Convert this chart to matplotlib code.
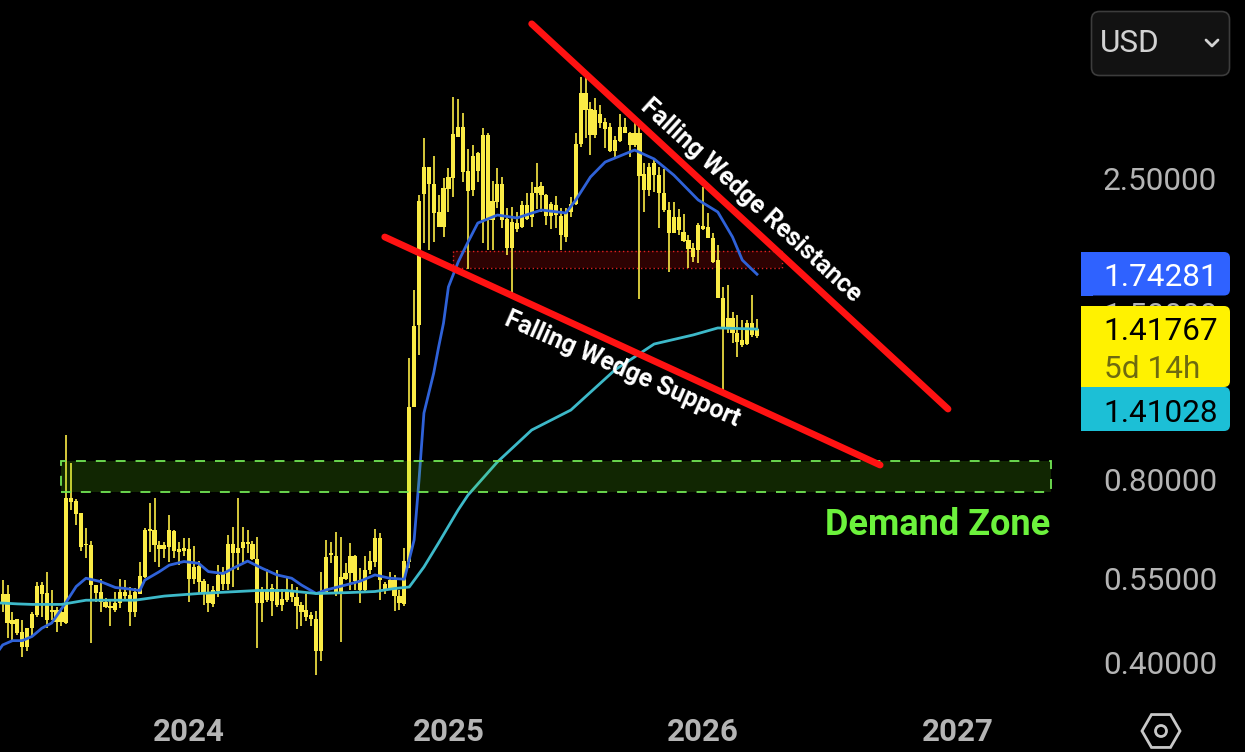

import numpy as np
import matplotlib
matplotlib.use('Agg')
import matplotlib.pyplot as plt
import matplotlib.dates as mdates
from matplotlib.patches import FancyBboxPatch, Rectangle, RegularPolygon, Circle
from matplotlib.transforms import Affine2D
from matplotlib.ticker import NullLocator
import datetime as dt

first_week = '2023-04-03'
opens = [0.502,0.520,0.463,0.472,0.450,0.424,0.456,0.479,0.538,0.522,0.484,0.489,0.467,0.465,0.748,0.738,0.705,0.624,0.625,0.537,
0.524,0.504,0.492,0.502,0.501,0.524,0.517,0.484,0.520,0.554,0.660,0.661,0.625,0.615,0.621,0.660,0.609,0.617,0.615,0.549,
0.577,0.546,0.522,0.499,0.525,0.560,0.540,0.627,0.607,0.617,0.633,0.627,0.592,0.502,0.526,0.506,0.528,0.498,0.507,0.526,
0.513,0.498,0.489,0.479,0.473,0.419,0.520,0.602,0.599,0.520,0.550,0.563,0.599,0.547,0.527,0.568,0.587,0.641,0.540,0.530,
0.547,0.515,0.500,0.586,1.054,1.438,2.362,2.613,2.453,2.209,2.087,2.404,2.506,2.935,3.040,2.580,2.398,2.755,2.953,2.140,
2.303,2.294,2.453,2.146,1.923,2.119,2.082,2.266,2.168,2.374,2.435,2.353,2.173,2.266,2.173,2.009,2.209,2.274,2.854,3.467,
3.255,2.953,3.198,3.106,3.040,2.780,2.891,3.040,2.980,2.844,2.972,2.548,2.398,2.653,2.538,2.374,2.223,2.040,2.168,2.048,
1.984,1.923,1.910,2.092,2.082,1.997,1.839,1.591,1.429,1.475,1.393,1.359,1.338,1.447,1.379]
highs = [0.547,0.537,0.485,0.472,0.470,0.456,0.485,0.544,0.543,0.565,0.526,0.494,0.492,0.948,0.854,0.743,0.705,0.666,0.635,0.537,
0.549,0.511,0.507,0.524,0.549,0.547,0.534,0.530,0.585,0.666,0.732,0.748,0.635,0.633,0.700,0.661,0.633,0.641,0.641,0.623,
0.589,0.549,0.540,0.535,0.579,0.574,0.649,0.670,0.746,0.668,0.661,0.635,0.643,0.534,0.570,0.540,0.568,0.528,0.556,0.540,
0.534,0.504,0.519,0.485,0.487,0.565,0.637,0.633,0.657,0.645,0.583,0.629,0.602,0.572,0.599,0.612,0.663,0.653,0.544,0.565,
0.558,0.527,0.619,1.269,1.642,2.353,2.916,2.620,2.728,2.353,2.506,2.603,3.415,3.381,3.214,2.797,2.844,2.773,3.029,2.980,
2.484,2.603,2.516,2.237,2.251,2.209,2.303,2.368,2.475,2.660,2.475,2.362,2.294,2.344,2.237,2.237,2.332,2.980,3.674,3.674,
3.351,3.393,3.309,3.146,3.087,2.942,3.198,3.146,2.991,3.106,3.067,2.653,2.660,2.693,2.620,2.593,2.294,2.294,2.229,2.190,
2.022,1.959,2.119,2.428,2.195,2.035,1.947,1.663,1.673,1.513,1.494,1.466,1.466,1.611,1.469]
lows = [0.485,0.439,0.433,0.444,0.409,0.419,0.442,0.476,0.476,0.456,0.470,0.450,0.459,0.463,0.714,0.674,0.611,0.596,0.431,0.504,
0.485,0.492,0.459,0.485,0.492,0.507,0.459,0.476,0.519,0.551,0.609,0.587,0.574,0.594,0.587,0.596,0.579,0.599,0.504,0.540,
0.520,0.498,0.485,0.495,0.514,0.527,0.527,0.534,0.568,0.583,0.606,0.590,0.423,0.467,0.504,0.478,0.495,0.487,0.504,0.504,
0.454,0.460,0.469,0.460,0.382,0.403,0.519,0.583,0.515,0.432,0.547,0.527,0.526,0.502,0.524,0.560,0.576,0.507,0.520,0.527,
0.487,0.489,0.496,0.573,1.054,1.284,1.959,1.910,1.972,2.087,2.009,2.209,2.338,2.935,2.475,1.776,2.344,2.475,1.959,1.910,
1.910,2.237,2.074,1.875,1.621,2.048,2.074,2.140,2.087,2.229,2.209,2.100,2.066,2.074,1.910,1.972,2.168,2.266,2.819,2.916,
2.738,2.916,3.029,2.808,2.773,2.714,2.880,2.972,2.714,2.826,1.585,2.209,2.344,2.383,2.074,2.209,1.760,2.035,2.022,1.972,
1.782,1.828,1.816,2.061,1.997,1.821,1.591,1.121,1.393,1.342,1.275,1.325,1.333,1.376,1.367]
closes = [0.520,0.465,0.470,0.447,0.425,0.456,0.482,0.536,0.520,0.470,0.489,0.467,0.485,0.748,0.736,0.703,0.621,0.627,0.537,0.522,
0.504,0.494,0.496,0.489,0.524,0.516,0.485,0.524,0.556,0.661,0.663,0.625,0.615,0.625,0.661,0.612,0.615,0.612,0.549,0.576,
0.544,0.520,0.501,0.527,0.558,0.540,0.627,0.606,0.617,0.633,0.627,0.592,0.502,0.527,0.507,0.530,0.498,0.509,0.527,0.513,
0.496,0.485,0.476,0.472,0.419,0.520,0.598,0.606,0.519,0.553,0.563,0.599,0.546,0.527,0.568,0.589,0.641,0.547,0.527,0.547,
0.515,0.501,0.589,1.054,1.433,2.303,2.613,2.450,2.201,2.087,2.413,2.516,2.965,3.040,2.570,2.392,2.728,2.580,2.140,2.953,
2.140,2.453,2.140,1.923,2.127,2.066,2.266,2.146,2.374,2.428,2.353,2.173,2.274,2.181,2.022,2.209,2.274,2.854,3.467,3.247,
2.953,3.247,3.095,3.017,2.780,2.898,3.040,2.980,2.844,2.980,2.529,2.398,2.613,2.538,2.374,2.223,2.040,2.162,2.061,1.979,
1.915,1.858,2.100,2.066,1.997,1.828,1.591,1.429,1.475,1.393,1.350,1.333,1.451,1.385,1.418]

fast_ma_week = [-1,0,2,4,6,8,10,13,15,17,20,23,25,28,29,32,34,37,40,42,45,47,50,53,56,59,61,64,66,70,73,76,79,82,84,85,86,88,89,90,91,93,95,97,101,105,110,115,117,120,123,129,133,137,142,146,149,151,154]
fast_ma_price = [0.417,0.428,0.435,0.435,0.442,0.456,0.465,0.504,0.534,0.551,0.544,0.532,0.530,0.526,0.547,0.565,0.579,0.587,0.583,0.565,0.561,0.572,0.588,0.572,0.558,0.551,0.537,0.520,0.527,0.537,0.545,0.558,0.551,0.549,0.637,0.800,1.030,1.199,1.323,1.449,1.661,1.826,1.969,2.116,2.181,2.157,2.223,2.198,2.309,2.519,2.666,2.790,2.697,2.538,2.309,2.206,2.007,1.839,1.743]
slow_ma_week = [-1,3,6,12,17,27,33,40,52,58,64,71,76,80,83,86,89,93,95,101,108,116,125,133,141,146,154]
slow_ma_price = [0.502,0.500,0.499,0.499,0.507,0.507,0.515,0.520,0.526,0.526,0.520,0.522,0.524,0.530,0.533,0.575,0.630,0.714,0.755,0.856,0.966,1.042,1.213,1.338,1.385,1.422,1.416]

resistance_dates = ['2025-04-28', '2026-12-14']
resistance_prices = [4.50, 1.046]
support_dates = ['2024-09-30', '2026-09-08']
support_prices = [2.007, 0.846]
demand_dates = ['2023-06-26', '2027-05-10']
demand_prices = [0.764, 0.8575]
red_zone_dates = ['2025-01-05', '2026-04-21']
red_zone_prices = [1.785, 1.903]

y_ticks = [0.40, 0.55, 0.80, 1.50, 2.50]
x_tick_dates = ['2023-12-25', '2024-12-31', '2025-12-29', '2026-12-28']
x_tick_labels = ['2024', '2025', '2026', '2027']

FONT = 'Roboto'
W, H = 1245, 752
plt.rcParams['font.family'] = [FONT, 'DejaVu Sans']
fig = plt.figure(figsize=(W/100, H/100), dpi=100, facecolor='black')
ax = fig.add_axes([0, 0, 1, 1], facecolor='black')
px = Affine2D().scale(1, -1).translate(0, H)

d0 = mdates.date2num(dt.datetime.fromisoformat(first_week))
dn = lambda s: mdates.date2num(dt.datetime.fromisoformat(s))
x = d0 + 7*np.arange(len(closes))
o, h, l, c = map(np.array, (opens, highs, lows, closes))

YEL = '#FAEB45'
ax.vlines(x, l, h, color=YEL, lw=1.2, zorder=3)
top = np.maximum(o, c); bot = np.minimum(o, c)
ax.bar(x, top-bot, bottom=bot, width=6.0, color=YEL, lw=0, zorder=3)

ax.plot(d0+7*np.array(fast_ma_week), fast_ma_price, color='#2F62D8', lw=2.0, zorder=4, solid_joinstyle='round')
ax.plot(d0+7*np.array(slow_ma_week), slow_ma_price, color='#3DB9C9', lw=2.0, zorder=4, solid_joinstyle='round')

# zones
dz = [dn(s) for s in demand_dates]
ax.add_patch(Rectangle((dz[0], demand_prices[0]), dz[1]-dz[0], demand_prices[1]-demand_prices[0],
             facecolor='#70F010', alpha=0.16, lw=0, zorder=5))
ax.add_patch(Rectangle((dz[0], demand_prices[0]), dz[1]-dz[0], demand_prices[1]-demand_prices[0],
             facecolor='none', edgecolor='#72E655', lw=1.3, ls=(0, (5.5, 5.5)), zorder=5))
rz = [dn(s) for s in red_zone_dates]
ax.add_patch(Rectangle((rz[0], red_zone_prices[0]), rz[1]-rz[0], red_zone_prices[1]-red_zone_prices[0],
             facecolor='#FF1010', alpha=0.18, lw=0, zorder=2))
ax.add_patch(Rectangle((rz[0], red_zone_prices[0]), rz[1]-rz[0], red_zone_prices[1]-red_zone_prices[0],
             facecolor='none', edgecolor='#E02020', lw=1.0, ls=(0, (1, 2)), zorder=2))

# trend lines
for ds, ps in ((resistance_dates, resistance_prices), (support_dates, support_prices)):
    ax.plot([dn(s) for s in ds], ps, color='#FF1212', lw=4.9, solid_capstyle='round', zorder=6)

ax.set_yscale('log')
ax.set_ylim(0.2853, 4.925)
ax.set_xlim(d0 - 2.7*7/4.898, d0 + (W-2.7)*7/4.898)
for s in ax.spines.values():
    s.set_visible(False)

GREY = '#B4B4B4'
ax.yaxis.set_minor_locator(NullLocator())
ax.yaxis.tick_right()
ax.set_yticks(y_ticks, [f'{v:.5f}' for v in y_ticks])
ax.tick_params(axis='y', which='both', length=0, pad=-20, labelsize=22.7, labelcolor=GREY)
for t in ax.get_yticklabels():
    t.set_ha('right')
ax.set_xticks([dn(s) for s in x_tick_dates], x_tick_labels)
ax.tick_params(axis='x', length=0, pad=-25, labelsize=22.5, labelcolor=GREY)
for t in ax.get_xticklabels():
    t.set_fontweight('bold')

# annotations
ax.text(751, 200, 'Falling Wedge Resistance', transform=px, rotation=-42.3, rotation_mode='anchor',
        ha='center', va='center', color='white', fontsize=18, fontweight='bold', zorder=7)
ax.text(622.5, 369.5, 'Falling Wedge Support', transform=px, rotation=-23.7, rotation_mode='anchor',
        ha='center', va='center', color='white', fontsize=18, fontweight='bold', zorder=7)
ax.text(825, 535, 'Demand Zone', transform=px, ha='left', va='baseline', color='#6CF23C',
        fontsize=26, fontweight='bold', zorder=7)

# right-hand UI
def box(x0, y0, x1, y1, color, square_left=True, edge='none', r=6, zorder=8):
    ax.add_patch(FancyBboxPatch((x0+r, y0+r), x1-x0-2*r, y1-y0-2*r, boxstyle=f'round,pad={r},rounding_size={r}',
                 facecolor=color, edgecolor=edge, lw=1.2 if edge != 'none' else 0, transform=px, zorder=zorder, clip_on=False))
    if square_left:
        ax.add_patch(Rectangle((x0, y0), 2*r, y1-y0, facecolor=color, lw=0, transform=px, zorder=zorder))

box(1091.5, 11.5, 1229.5, 75.5, '#121212', square_left=False, edge='#3C3C3C', r=8)
ax.text(1100, 44, 'USD', transform=px, ha='left', va='center', color='#D2D2D2', fontsize=22.7, zorder=9)
ax.plot([1206, 1212, 1218], [40, 46, 40], transform=px, color='#D2D2D2', lw=2.0, solid_capstyle='round', zorder=9)

box(1081, 252, 1230, 295.5, '#2F62FF')
ax.text(1103.5, 277, '1.74281', transform=px, ha='left', va='center', color='white', fontsize=22.7, zorder=9)
box(1081, 306, 1230, 387, '#FFF200')
ax.text(1103.5, 332, '1.41767', transform=px, ha='left', va='center', color='black', fontsize=22.7, zorder=9)
ax.text(1104, 369, '5d 14h', transform=px, ha='left', va='center', color='#6E6A10', fontsize=22.7, zorder=9)
box(1081, 387, 1230, 431, '#1CBFD6', zorder=8.5)
ax.text(1103.5, 413, '1.41028', transform=px, ha='left', va='center', color='black', fontsize=22.7, zorder=9)

ax.add_patch(RegularPolygon((1161, 731), 6, radius=19, orientation=np.pi/6, facecolor='none',
             edgecolor='#C8C8C8', lw=2, transform=px, zorder=9, clip_on=False))
ax.add_patch(Circle((1161, 731), 5.5, facecolor='none', edgecolor='#C8C8C8', lw=2, transform=px, zorder=9, clip_on=False))

fig.savefig('out.png', dpi=100, facecolor='black')
